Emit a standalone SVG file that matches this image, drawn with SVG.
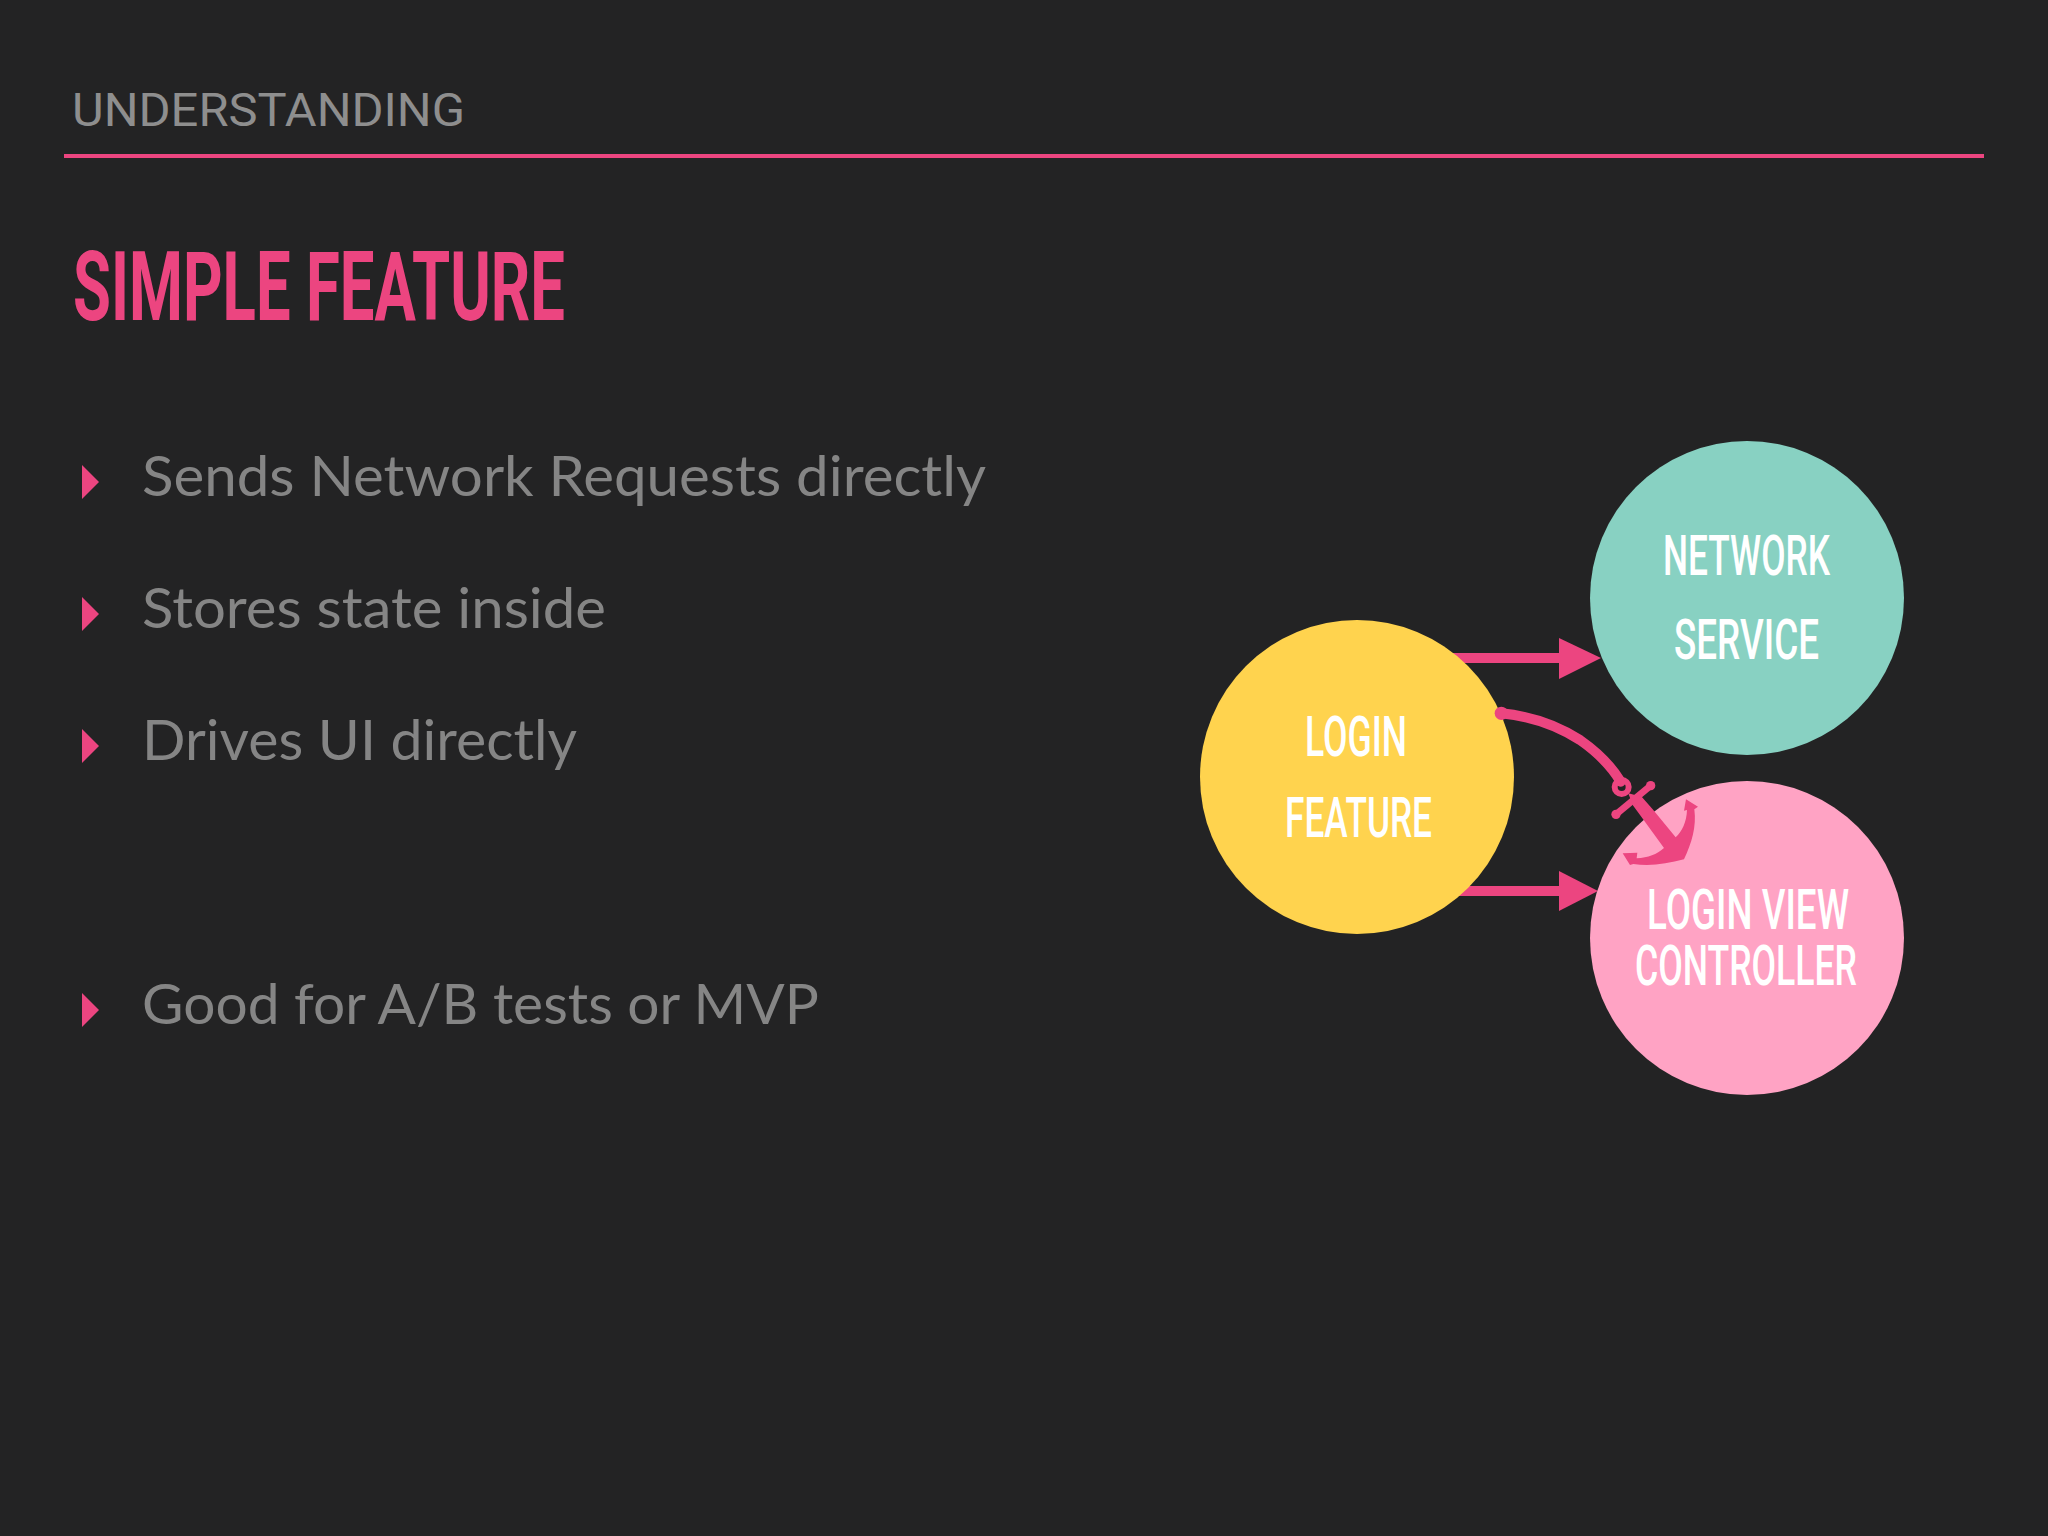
<svg xmlns="http://www.w3.org/2000/svg" width="2048" height="1536" viewBox="0 0 2048 1536">
<style>
.kick{font-family:Roboto,"Liberation Sans",sans-serif;font-size:46px;font-weight:400;fill:#8e8e8e}
.title{font-family:Roboto,"Liberation Sans",sans-serif;font-size:96px;font-weight:700;fill:#ec4580}
.body{font-family:Lato,"Noto Sans",sans-serif;font-size:57px;fill:#858585}
.label{font-family:Roboto,"Liberation Sans",sans-serif;font-size:56px;font-weight:500;fill:#fff}
.bul{fill:#ec4580}
.conn{stroke:#ec4580;stroke-width:10;fill:none}
.head{fill:#ec4580}
</style>
<rect width="2048" height="1536" fill="#232324"/>
<g id="header">
<text class="kick" x="72" y="126" textLength="393" lengthAdjust="spacingAndGlyphs">UNDERSTANDING</text>
<rect x="64" y="154" width="1920" height="4" fill="#ec4580"/>
<text class="title" x="73" y="320" textLength="492" lengthAdjust="spacingAndGlyphs">SIMPLE FEATURE</text>
</g>
<g id="bullets">
<polygon class="bul" points="82,465 99,482 82,499"/>
<text class="body" x="142" y="496" textLength="844" lengthAdjust="spacingAndGlyphs">Sends Network Requests directly</text>
<polygon class="bul" points="82,597 99,614 82,631"/>
<text class="body" x="142" y="628" textLength="464" lengthAdjust="spacingAndGlyphs">Stores state inside</text>
<polygon class="bul" points="82,729 99,746 82,763"/>
<text class="body" x="142" y="760" textLength="435" lengthAdjust="spacingAndGlyphs">Drives UI directly</text>
<polygon class="bul" points="82,993 99,1010 82,1027"/>
<text class="body" x="142" y="1024" textLength="677" lengthAdjust="spacingAndGlyphs">Good for A/B tests or MVP</text>
</g>
<g id="connectors">
<line class="conn" x1="1440" y1="658" x2="1565" y2="658"/>
<polygon class="head" points="1559,638 1601,658 1559,679"/>
<line class="conn" x1="1450" y1="891" x2="1565" y2="891"/>
<polygon class="head" points="1559,871 1598,891 1559,911"/>
</g>
<g id="node-network">
<circle cx="1747" cy="598" r="157" fill="#88d1c2"/>
<text class="label" x="1663" y="575" textLength="167" lengthAdjust="spacingAndGlyphs">NETWORK</text>
<text class="label" x="1674" y="659" textLength="145" lengthAdjust="spacingAndGlyphs">SERVICE</text>
</g>
<g id="node-view">
<circle cx="1747" cy="938" r="157" fill="#ffa3c4"/>
<text class="label" x="1647" y="929" textLength="202" lengthAdjust="spacingAndGlyphs">LOGIN VIEW</text>
<text class="label" x="1635" y="985" textLength="222" lengthAdjust="spacingAndGlyphs">CONTROLLER</text>
</g>
<g id="node-login">
<circle cx="1357" cy="777" r="157" fill="#ffd34e"/>
<text class="label" x="1305" y="756" textLength="102" lengthAdjust="spacingAndGlyphs">LOGIN</text>
<text class="label" x="1285" y="837" textLength="147" lengthAdjust="spacingAndGlyphs">FEATURE</text>
</g>
<g id="anchor" transform="translate(1480 690) scale(.33333)" fill="#ec4580">
<circle cx="64" cy="70" r="20"/>
<path d="M64,70C150,78 230,105 300,150C350,185 395,230 422,275" fill="none" stroke="#ec4580" stroke-width="30" stroke-linecap="round"/>
<circle cx="425" cy="291" r="21" fill="none" stroke="#ec4580" stroke-width="18"/>
<path d="M408,373L512,287" fill="none" stroke="#ec4580" stroke-width="20"/>
<circle cx="408" cy="373" r="14"/><circle cx="512" cy="287" r="14"/>
<path d="M445,310L485,320L518,358L587,442C606,425 620,395 621,360L612,362L618,328L654,350L643,358C650,410 635,460 612,508C560,522 510,529 460,522L450,525L428,490L472,488L470,505C505,503 530,493 552,474L485,382L458,345Z"/>
</g>
</svg>
